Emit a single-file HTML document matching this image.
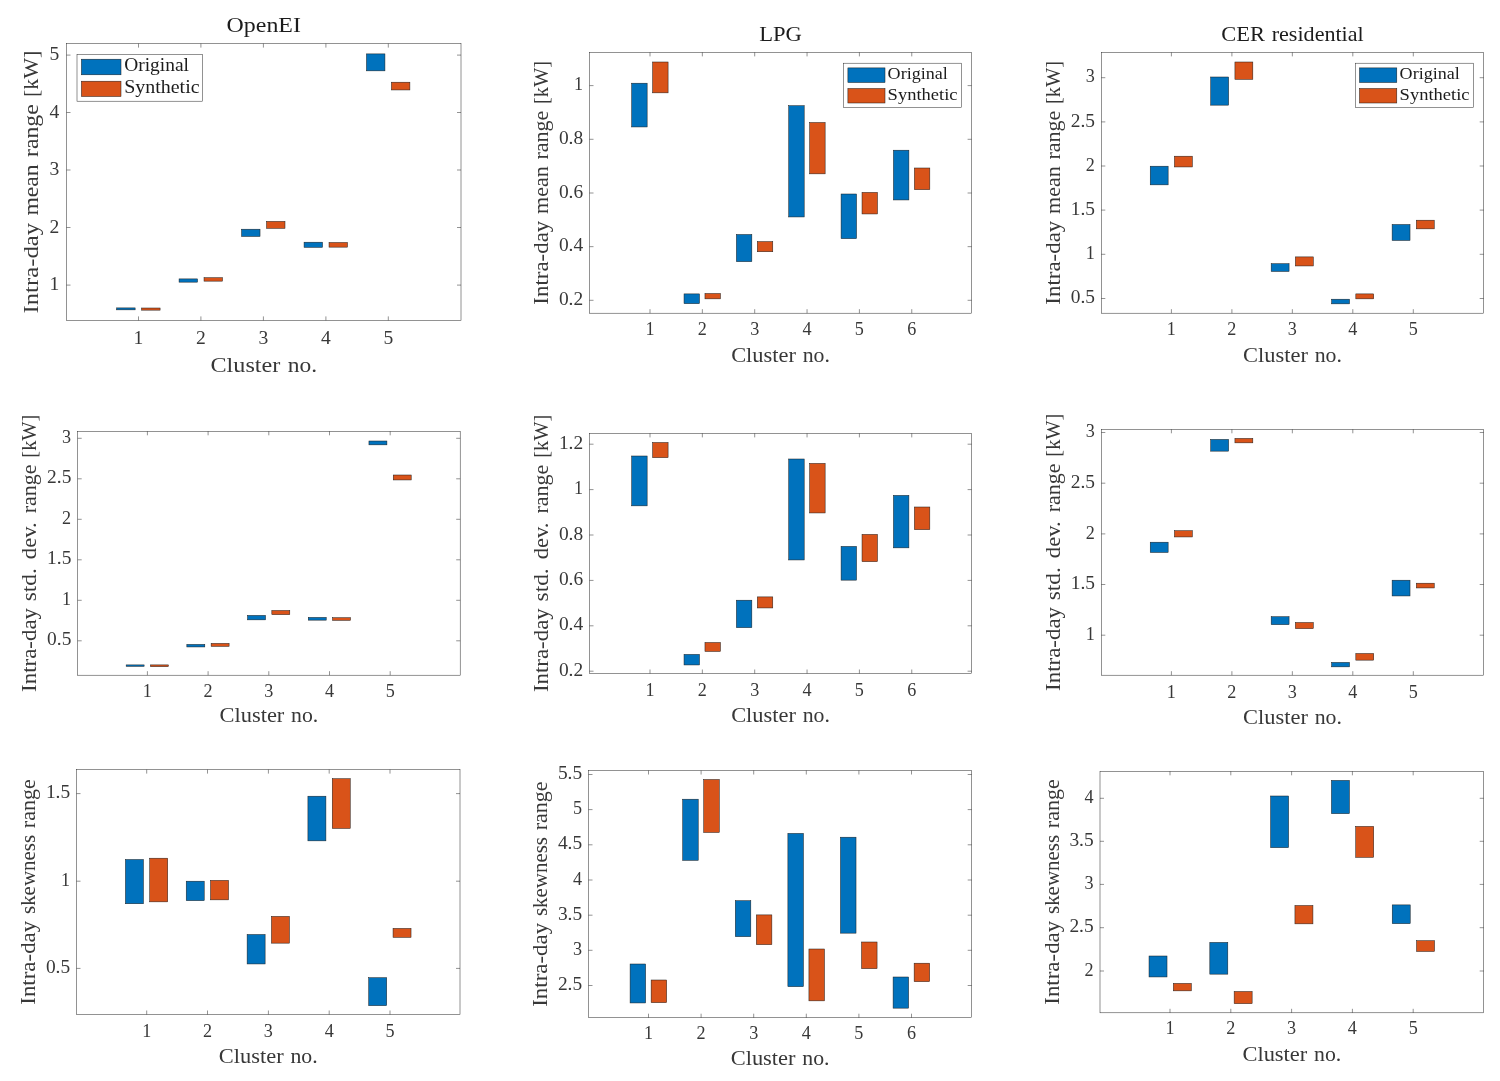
<!DOCTYPE html>
<html lang="en">
<head>
<meta charset="utf-8">
<title>Intra-day range comparison: Original vs Synthetic</title>
<style>
html,body{margin:0;padding:0;background:#fff;}
body{width:1500px;height:1081px;overflow:hidden;}
svg{display:block;}
svg text{font-family:"Liberation Serif","DejaVu Serif",serif;}
</style>
</head>
<body>
<svg width="1500" height="1081" viewBox="0 0 1500 1081">
<rect x="0" y="0" width="1500" height="1081" fill="#ffffff"/>
<g id="p1">
<rect x="116.66" y="307.9" width="18.47" height="1.95" fill="#0072BD" stroke="#1a1a1a" stroke-width="0.5"/>
<rect x="141.62" y="308" width="18.47" height="2.15" fill="#D95319" stroke="#1a1a1a" stroke-width="0.5"/>
<rect x="179.06" y="278.9" width="18.47" height="3.25" fill="#0072BD" stroke="#1a1a1a" stroke-width="0.5"/>
<rect x="204.02" y="277.7" width="18.47" height="3.45" fill="#D95319" stroke="#1a1a1a" stroke-width="0.5"/>
<rect x="241.56" y="229.2" width="18.47" height="7.25" fill="#0072BD" stroke="#1a1a1a" stroke-width="0.5"/>
<rect x="266.52" y="221.4" width="18.47" height="6.95" fill="#D95319" stroke="#1a1a1a" stroke-width="0.5"/>
<rect x="304.06" y="242.2" width="18.47" height="5.15" fill="#0072BD" stroke="#1a1a1a" stroke-width="0.5"/>
<rect x="329.02" y="242.5" width="18.47" height="4.65" fill="#D95319" stroke="#1a1a1a" stroke-width="0.5"/>
<rect x="366.46" y="53.9" width="18.47" height="16.95" fill="#0072BD" stroke="#1a1a1a" stroke-width="0.5"/>
<rect x="391.42" y="82.2" width="18.47" height="7.75" fill="#D95319" stroke="#1a1a1a" stroke-width="0.5"/>
<rect x="66.5" y="43.6" width="394.5" height="276.8" fill="none" stroke="#262626" stroke-width="0.5"/>
<path d="M138.5 320.4v-4M138.5 43.6v4M200.9 320.4v-4M200.9 43.6v4M263.4 320.4v-4M263.4 43.6v4M325.9 320.4v-4M325.9 43.6v4M388.3 320.4v-4M388.3 43.6v4M66.5 285.1h4M461 285.1h-4M66.5 227.5h4M461 227.5h-4M66.5 170h4M461 170h-4M66.5 112.5h4M461 112.5h-4M66.5 55.1h4M461 55.1h-4" stroke="#262626" stroke-width="0.5" fill="none"/>
<text y="343.6" font-size="19.58" fill="#383838"><tspan x="138.5" text-anchor="middle">1</tspan></text>
<text y="343.6" font-size="19.58" fill="#383838"><tspan x="200.9" text-anchor="middle">2</tspan></text>
<text y="343.6" font-size="19.58" fill="#383838"><tspan x="263.4" text-anchor="middle">3</tspan></text>
<text y="343.6" font-size="19.58" fill="#383838"><tspan x="325.9" text-anchor="middle">4</tspan></text>
<text y="343.6" font-size="19.58" fill="#383838"><tspan x="388.3" text-anchor="middle">5</tspan></text>
<text y="290.2" font-size="19.58" fill="#383838"><tspan x="54.38" text-anchor="middle">1</tspan></text>
<text y="232.6" font-size="19.58" fill="#383838"><tspan x="54.38" text-anchor="middle">2</tspan></text>
<text y="175.1" font-size="19.58" fill="#383838"><tspan x="54.38" text-anchor="middle">3</tspan></text>
<text y="117.6" font-size="19.58" fill="#383838"><tspan x="54.38" text-anchor="middle">4</tspan></text>
<text y="60.2" font-size="19.58" fill="#383838"><tspan x="54.38" text-anchor="middle">5</tspan></text>
<text y="371.7" font-size="21.67" fill="#383838"><tspan x="210.49" textLength="69.85" lengthAdjust="spacingAndGlyphs">Cluster</tspan> <tspan x="287.66" textLength="29.35" lengthAdjust="spacingAndGlyphs">no.</tspan></text>
<text transform="translate(37.9 182) rotate(-90)" font-size="21.67" fill="#383838"><tspan x="-131.46" textLength="90.53" lengthAdjust="spacingAndGlyphs">Intra-day</tspan> <tspan x="-33.61" textLength="51.33" lengthAdjust="spacingAndGlyphs">mean</tspan> <tspan x="25.05" textLength="52.62" lengthAdjust="spacingAndGlyphs">range</tspan> <tspan x="85" textLength="46.46" lengthAdjust="spacingAndGlyphs">[kW]</tspan></text>
<text y="32" font-size="21.67" fill="#1c1c1c"><tspan x="226.61" textLength="74.27" lengthAdjust="spacingAndGlyphs">OpenEI</tspan></text>
<rect x="77" y="54.3" width="125.3" height="46.9" fill="#fff" stroke="#262626" stroke-width="0.5"/>
<rect x="81.4" y="59.2" width="39.6" height="15.6" fill="#0072BD" stroke="#1a1a1a" stroke-width="0.5"/>
<rect x="81.4" y="81.2" width="39.6" height="15.3" fill="#D95319" stroke="#1a1a1a" stroke-width="0.5"/>
<text y="71.3" font-size="17.93" fill="#1c1c1c"><tspan x="124.2" textLength="64.79" lengthAdjust="spacingAndGlyphs">Original</tspan></text>
<text y="93" font-size="17.93" fill="#1c1c1c"><tspan x="124.2" textLength="75.35" lengthAdjust="spacingAndGlyphs">Synthetic</tspan></text>
</g>
<g id="p2">
<rect x="631.68" y="83.2" width="15.46" height="43.75" fill="#0072BD" stroke="#1a1a1a" stroke-width="0.5"/>
<rect x="652.62" y="62" width="15.46" height="30.85" fill="#D95319" stroke="#1a1a1a" stroke-width="0.5"/>
<rect x="684.03" y="293.9" width="15.46" height="9.75" fill="#0072BD" stroke="#1a1a1a" stroke-width="0.5"/>
<rect x="704.97" y="293.5" width="15.46" height="5.35" fill="#D95319" stroke="#1a1a1a" stroke-width="0.5"/>
<rect x="736.38" y="234.5" width="15.46" height="27.15" fill="#0072BD" stroke="#1a1a1a" stroke-width="0.5"/>
<rect x="757.32" y="241.6" width="15.46" height="10.15" fill="#D95319" stroke="#1a1a1a" stroke-width="0.5"/>
<rect x="788.73" y="105.7" width="15.46" height="111.25" fill="#0072BD" stroke="#1a1a1a" stroke-width="0.5"/>
<rect x="809.67" y="122.5" width="15.46" height="51.35" fill="#D95319" stroke="#1a1a1a" stroke-width="0.5"/>
<rect x="841.08" y="194" width="15.46" height="44.65" fill="#0072BD" stroke="#1a1a1a" stroke-width="0.5"/>
<rect x="862.02" y="192.4" width="15.46" height="21.55" fill="#D95319" stroke="#1a1a1a" stroke-width="0.5"/>
<rect x="893.43" y="150.2" width="15.46" height="49.75" fill="#0072BD" stroke="#1a1a1a" stroke-width="0.5"/>
<rect x="914.37" y="168" width="15.46" height="21.65" fill="#D95319" stroke="#1a1a1a" stroke-width="0.5"/>
<rect x="589.5" y="52.4" width="382.1" height="260.8" fill="none" stroke="#262626" stroke-width="0.5"/>
<path d="M650 313.2v-4M650 52.4v4M702.35 313.2v-4M702.35 52.4v4M754.7 313.2v-4M754.7 52.4v4M807.05 313.2v-4M807.05 52.4v4M859.4 313.2v-4M859.4 52.4v4M911.75 313.2v-4M911.75 52.4v4M589.5 300.3h4M971.6 300.3h-4M589.5 246.65h4M971.6 246.65h-4M589.5 193h4M971.6 193h-4M589.5 139.3h4M971.6 139.3h-4M589.5 85.6h4M971.6 85.6h-4" stroke="#262626" stroke-width="0.5" fill="none"/>
<text y="335" font-size="18.14" fill="#383838"><tspan x="650" text-anchor="middle">1</tspan></text>
<text y="335" font-size="18.14" fill="#383838"><tspan x="702.35" text-anchor="middle">2</tspan></text>
<text y="335" font-size="18.14" fill="#383838"><tspan x="754.7" text-anchor="middle">3</tspan></text>
<text y="335" font-size="18.14" fill="#383838"><tspan x="807.05" text-anchor="middle">4</tspan></text>
<text y="335" font-size="18.14" fill="#383838"><tspan x="859.4" text-anchor="middle">5</tspan></text>
<text y="335" font-size="18.14" fill="#383838"><tspan x="911.75" text-anchor="middle">6</tspan></text>
<text y="304.92" font-size="18.14" fill="#383838"><tspan x="558.92" textLength="24.28" lengthAdjust="spacingAndGlyphs">0.2</tspan></text>
<text y="251.27" font-size="18.14" fill="#383838"><tspan x="558.92" textLength="24.28" lengthAdjust="spacingAndGlyphs">0.4</tspan></text>
<text y="197.62" font-size="18.14" fill="#383838"><tspan x="558.92" textLength="24.28" lengthAdjust="spacingAndGlyphs">0.6</tspan></text>
<text y="143.92" font-size="18.14" fill="#383838"><tspan x="558.92" textLength="24.28" lengthAdjust="spacingAndGlyphs">0.8</tspan></text>
<text y="90.22" font-size="18.14" fill="#383838"><tspan x="578.45" text-anchor="middle">1</tspan></text>
<text y="361.8" font-size="20.09" fill="#383838"><tspan x="731.16" textLength="64.77" lengthAdjust="spacingAndGlyphs">Cluster</tspan> <tspan x="802.72" textLength="27.21" lengthAdjust="spacingAndGlyphs">no.</tspan></text>
<text transform="translate(547.6 182.8) rotate(-90)" font-size="20.09" fill="#383838"><tspan x="-121.9" textLength="83.95" lengthAdjust="spacingAndGlyphs">Intra-day</tspan> <tspan x="-31.16" textLength="47.59" lengthAdjust="spacingAndGlyphs">mean</tspan> <tspan x="23.23" textLength="48.8" lengthAdjust="spacingAndGlyphs">range</tspan> <tspan x="78.82" textLength="43.08" lengthAdjust="spacingAndGlyphs">[kW]</tspan></text>
<text y="41" font-size="20.09" fill="#1c1c1c"><tspan x="759.22" textLength="42.66" lengthAdjust="spacingAndGlyphs">LPG</tspan></text>
<rect x="843.5" y="63.2" width="118.2" height="44.3" fill="#fff" stroke="#262626" stroke-width="0.5"/>
<rect x="847.9" y="67.9" width="37.1" height="14.6" fill="#0072BD" stroke="#1a1a1a" stroke-width="0.5"/>
<rect x="847.9" y="88.5" width="37.1" height="14.5" fill="#D95319" stroke="#1a1a1a" stroke-width="0.5"/>
<text y="79" font-size="16.65" fill="#1c1c1c"><tspan x="887.6" textLength="60.16" lengthAdjust="spacingAndGlyphs">Original</tspan></text>
<text y="99.7" font-size="16.65" fill="#1c1c1c"><tspan x="887.6" textLength="69.97" lengthAdjust="spacingAndGlyphs">Synthetic</tspan></text>
</g>
<g id="p3">
<rect x="1150.23" y="166.2" width="17.9" height="18.65" fill="#0072BD" stroke="#1a1a1a" stroke-width="0.5"/>
<rect x="1174.43" y="156.2" width="17.9" height="10.75" fill="#D95319" stroke="#1a1a1a" stroke-width="0.5"/>
<rect x="1210.73" y="77" width="17.9" height="28.15" fill="#0072BD" stroke="#1a1a1a" stroke-width="0.5"/>
<rect x="1234.93" y="62" width="17.9" height="17.35" fill="#D95319" stroke="#1a1a1a" stroke-width="0.5"/>
<rect x="1271.17" y="263.7" width="17.9" height="7.75" fill="#0072BD" stroke="#1a1a1a" stroke-width="0.5"/>
<rect x="1295.38" y="256.9" width="17.9" height="9.05" fill="#D95319" stroke="#1a1a1a" stroke-width="0.5"/>
<rect x="1331.62" y="299.2" width="17.9" height="4.65" fill="#0072BD" stroke="#1a1a1a" stroke-width="0.5"/>
<rect x="1355.83" y="293.9" width="17.9" height="4.95" fill="#D95319" stroke="#1a1a1a" stroke-width="0.5"/>
<rect x="1392.12" y="224.5" width="17.9" height="15.95" fill="#0072BD" stroke="#1a1a1a" stroke-width="0.5"/>
<rect x="1416.33" y="220.2" width="17.9" height="8.65" fill="#D95319" stroke="#1a1a1a" stroke-width="0.5"/>
<rect x="1101.3" y="52.4" width="382.4" height="260.8" fill="none" stroke="#262626" stroke-width="0.5"/>
<path d="M1171.4 313.2v-4M1171.4 52.4v4M1231.9 313.2v-4M1231.9 52.4v4M1292.35 313.2v-4M1292.35 52.4v4M1352.8 313.2v-4M1352.8 52.4v4M1413.3 313.2v-4M1413.3 52.4v4M1101.3 298.5h4M1483.7 298.5h-4M1101.3 254.3h4M1483.7 254.3h-4M1101.3 210.1h4M1483.7 210.1h-4M1101.3 166h4M1483.7 166h-4M1101.3 121.9h4M1483.7 121.9h-4M1101.3 77.7h4M1483.7 77.7h-4" stroke="#262626" stroke-width="0.5" fill="none"/>
<text y="335" font-size="18.14" fill="#383838"><tspan x="1171.4" text-anchor="middle">1</tspan></text>
<text y="335" font-size="18.14" fill="#383838"><tspan x="1231.9" text-anchor="middle">2</tspan></text>
<text y="335" font-size="18.14" fill="#383838"><tspan x="1292.35" text-anchor="middle">3</tspan></text>
<text y="335" font-size="18.14" fill="#383838"><tspan x="1352.8" text-anchor="middle">4</tspan></text>
<text y="335" font-size="18.14" fill="#383838"><tspan x="1413.3" text-anchor="middle">5</tspan></text>
<text y="303.12" font-size="18.14" fill="#383838"><tspan x="1070.72" textLength="24.28" lengthAdjust="spacingAndGlyphs">0.5</tspan></text>
<text y="258.92" font-size="18.14" fill="#383838"><tspan x="1090.25" text-anchor="middle">1</tspan></text>
<text y="214.72" font-size="18.14" fill="#383838"><tspan x="1070.72" textLength="24.28" lengthAdjust="spacingAndGlyphs">1.5</tspan></text>
<text y="170.62" font-size="18.14" fill="#383838"><tspan x="1090.25" text-anchor="middle">2</tspan></text>
<text y="126.52" font-size="18.14" fill="#383838"><tspan x="1070.72" textLength="24.28" lengthAdjust="spacingAndGlyphs">2.5</tspan></text>
<text y="82.32" font-size="18.14" fill="#383838"><tspan x="1090.25" text-anchor="middle">3</tspan></text>
<text y="361.8" font-size="20.09" fill="#383838"><tspan x="1243.11" textLength="64.77" lengthAdjust="spacingAndGlyphs">Cluster</tspan> <tspan x="1314.67" textLength="27.21" lengthAdjust="spacingAndGlyphs">no.</tspan></text>
<text transform="translate(1060 182.8) rotate(-90)" font-size="20.09" fill="#383838"><tspan x="-121.9" textLength="83.95" lengthAdjust="spacingAndGlyphs">Intra-day</tspan> <tspan x="-31.16" textLength="47.59" lengthAdjust="spacingAndGlyphs">mean</tspan> <tspan x="23.23" textLength="48.8" lengthAdjust="spacingAndGlyphs">range</tspan> <tspan x="78.82" textLength="43.08" lengthAdjust="spacingAndGlyphs">[kW]</tspan></text>
<text y="41" font-size="20.09" fill="#1c1c1c"><tspan x="1221.29" textLength="43.64" lengthAdjust="spacingAndGlyphs">CER</tspan> <tspan x="1271.72" textLength="91.98" lengthAdjust="spacingAndGlyphs">residential</tspan></text>
<rect x="1355.3" y="63.2" width="118.2" height="44.3" fill="#fff" stroke="#262626" stroke-width="0.5"/>
<rect x="1359.5" y="67.9" width="37.3" height="14.6" fill="#0072BD" stroke="#1a1a1a" stroke-width="0.5"/>
<rect x="1359.5" y="88.5" width="37.3" height="14.5" fill="#D95319" stroke="#1a1a1a" stroke-width="0.5"/>
<text y="79" font-size="16.65" fill="#1c1c1c"><tspan x="1399.6" textLength="60.16" lengthAdjust="spacingAndGlyphs">Original</tspan></text>
<text y="99.7" font-size="16.65" fill="#1c1c1c"><tspan x="1399.6" textLength="69.97" lengthAdjust="spacingAndGlyphs">Synthetic</tspan></text>
</g>
<g id="p4">
<rect x="126.16" y="664.9" width="17.96" height="1.45" fill="#0072BD" stroke="#1a1a1a" stroke-width="0.5"/>
<rect x="150.44" y="664.9" width="17.96" height="1.75" fill="#D95319" stroke="#1a1a1a" stroke-width="0.5"/>
<rect x="186.85" y="644.4" width="17.96" height="2.55" fill="#0072BD" stroke="#1a1a1a" stroke-width="0.5"/>
<rect x="211.13" y="643.4" width="17.96" height="2.95" fill="#D95319" stroke="#1a1a1a" stroke-width="0.5"/>
<rect x="247.56" y="615.4" width="17.96" height="4.45" fill="#0072BD" stroke="#1a1a1a" stroke-width="0.5"/>
<rect x="271.84" y="610.5" width="17.96" height="4.15" fill="#D95319" stroke="#1a1a1a" stroke-width="0.5"/>
<rect x="308.25" y="617.4" width="17.96" height="2.75" fill="#0072BD" stroke="#1a1a1a" stroke-width="0.5"/>
<rect x="332.54" y="617.7" width="17.96" height="2.65" fill="#D95319" stroke="#1a1a1a" stroke-width="0.5"/>
<rect x="368.95" y="441" width="17.96" height="3.85" fill="#0072BD" stroke="#1a1a1a" stroke-width="0.5"/>
<rect x="393.24" y="475" width="17.96" height="4.95" fill="#D95319" stroke="#1a1a1a" stroke-width="0.5"/>
<rect x="77.7" y="431.3" width="382.5" height="243.9" fill="none" stroke="#262626" stroke-width="0.5"/>
<path d="M147.4 675.2v-4M147.4 431.3v4M208.1 675.2v-4M208.1 431.3v4M268.8 675.2v-4M268.8 431.3v4M329.5 675.2v-4M329.5 431.3v4M390.2 675.2v-4M390.2 431.3v4M77.7 640.8h4M460.2 640.8h-4M77.7 600.3h4M460.2 600.3h-4M77.7 559.8h4M460.2 559.8h-4M77.7 519.3h4M460.2 519.3h-4M77.7 478.8h4M460.2 478.8h-4M77.7 438.3h4M460.2 438.3h-4" stroke="#262626" stroke-width="0.5" fill="none"/>
<text y="697.2" font-size="18.14" fill="#383838"><tspan x="147.4" text-anchor="middle">1</tspan></text>
<text y="697.2" font-size="18.14" fill="#383838"><tspan x="208.1" text-anchor="middle">2</tspan></text>
<text y="697.2" font-size="18.14" fill="#383838"><tspan x="268.8" text-anchor="middle">3</tspan></text>
<text y="697.2" font-size="18.14" fill="#383838"><tspan x="329.5" text-anchor="middle">4</tspan></text>
<text y="697.2" font-size="18.14" fill="#383838"><tspan x="390.2" text-anchor="middle">5</tspan></text>
<text y="645.42" font-size="18.14" fill="#383838"><tspan x="47.12" textLength="24.28" lengthAdjust="spacingAndGlyphs">0.5</tspan></text>
<text y="604.92" font-size="18.14" fill="#383838"><tspan x="66.65" text-anchor="middle">1</tspan></text>
<text y="564.42" font-size="18.14" fill="#383838"><tspan x="47.12" textLength="24.28" lengthAdjust="spacingAndGlyphs">1.5</tspan></text>
<text y="523.92" font-size="18.14" fill="#383838"><tspan x="66.65" text-anchor="middle">2</tspan></text>
<text y="483.42" font-size="18.14" fill="#383838"><tspan x="47.12" textLength="24.28" lengthAdjust="spacingAndGlyphs">2.5</tspan></text>
<text y="442.92" font-size="18.14" fill="#383838"><tspan x="66.65" text-anchor="middle">3</tspan></text>
<text y="722" font-size="20.09" fill="#383838"><tspan x="219.56" textLength="64.77" lengthAdjust="spacingAndGlyphs">Cluster</tspan> <tspan x="291.12" textLength="27.21" lengthAdjust="spacingAndGlyphs">no.</tspan></text>
<text transform="translate(36.2 553.25) rotate(-90)" font-size="20.09" fill="#383838"><tspan x="-138.68" textLength="83.95" lengthAdjust="spacingAndGlyphs">Intra-day</tspan> <tspan x="-47.94" textLength="32.99" lengthAdjust="spacingAndGlyphs">std.</tspan> <tspan x="-5.9" textLength="36.84" lengthAdjust="spacingAndGlyphs">dev.</tspan> <tspan x="40" textLength="48.8" lengthAdjust="spacingAndGlyphs">range</tspan> <tspan x="95.59" textLength="43.08" lengthAdjust="spacingAndGlyphs">[kW]</tspan></text>
</g>
<g id="p5">
<rect x="631.68" y="456" width="15.46" height="49.85" fill="#0072BD" stroke="#1a1a1a" stroke-width="0.5"/>
<rect x="652.62" y="442.5" width="15.46" height="15.15" fill="#D95319" stroke="#1a1a1a" stroke-width="0.5"/>
<rect x="684.03" y="654.4" width="15.46" height="10.55" fill="#0072BD" stroke="#1a1a1a" stroke-width="0.5"/>
<rect x="704.97" y="642.5" width="15.46" height="8.95" fill="#D95319" stroke="#1a1a1a" stroke-width="0.5"/>
<rect x="736.38" y="600.2" width="15.46" height="27.45" fill="#0072BD" stroke="#1a1a1a" stroke-width="0.5"/>
<rect x="757.32" y="596.9" width="15.46" height="11.05" fill="#D95319" stroke="#1a1a1a" stroke-width="0.5"/>
<rect x="788.73" y="459" width="15.46" height="100.95" fill="#0072BD" stroke="#1a1a1a" stroke-width="0.5"/>
<rect x="809.67" y="463.4" width="15.46" height="49.55" fill="#D95319" stroke="#1a1a1a" stroke-width="0.5"/>
<rect x="841.08" y="546.4" width="15.46" height="33.75" fill="#0072BD" stroke="#1a1a1a" stroke-width="0.5"/>
<rect x="862.02" y="534.4" width="15.46" height="27.25" fill="#D95319" stroke="#1a1a1a" stroke-width="0.5"/>
<rect x="893.43" y="495.4" width="15.46" height="52.45" fill="#0072BD" stroke="#1a1a1a" stroke-width="0.5"/>
<rect x="914.37" y="507" width="15.46" height="22.65" fill="#D95319" stroke="#1a1a1a" stroke-width="0.5"/>
<rect x="589.5" y="433.4" width="382.1" height="240.1" fill="none" stroke="#262626" stroke-width="0.5"/>
<path d="M650 673.5v-4M650 433.4v4M702.35 673.5v-4M702.35 433.4v4M754.7 673.5v-4M754.7 433.4v4M807.05 673.5v-4M807.05 433.4v4M859.4 673.5v-4M859.4 433.4v4M911.75 673.5v-4M911.75 433.4v4M589.5 671.2h4M971.6 671.2h-4M589.5 625.8h4M971.6 625.8h-4M589.5 580.4h4M971.6 580.4h-4M589.5 535h4M971.6 535h-4M589.5 489.6h4M971.6 489.6h-4M589.5 444.2h4M971.6 444.2h-4" stroke="#262626" stroke-width="0.5" fill="none"/>
<text y="695.8" font-size="18.14" fill="#383838"><tspan x="650" text-anchor="middle">1</tspan></text>
<text y="695.8" font-size="18.14" fill="#383838"><tspan x="702.35" text-anchor="middle">2</tspan></text>
<text y="695.8" font-size="18.14" fill="#383838"><tspan x="754.7" text-anchor="middle">3</tspan></text>
<text y="695.8" font-size="18.14" fill="#383838"><tspan x="807.05" text-anchor="middle">4</tspan></text>
<text y="695.8" font-size="18.14" fill="#383838"><tspan x="859.4" text-anchor="middle">5</tspan></text>
<text y="695.8" font-size="18.14" fill="#383838"><tspan x="911.75" text-anchor="middle">6</tspan></text>
<text y="675.82" font-size="18.14" fill="#383838"><tspan x="558.92" textLength="24.28" lengthAdjust="spacingAndGlyphs">0.2</tspan></text>
<text y="630.42" font-size="18.14" fill="#383838"><tspan x="558.92" textLength="24.28" lengthAdjust="spacingAndGlyphs">0.4</tspan></text>
<text y="585.02" font-size="18.14" fill="#383838"><tspan x="558.92" textLength="24.28" lengthAdjust="spacingAndGlyphs">0.6</tspan></text>
<text y="539.62" font-size="18.14" fill="#383838"><tspan x="558.92" textLength="24.28" lengthAdjust="spacingAndGlyphs">0.8</tspan></text>
<text y="494.22" font-size="18.14" fill="#383838"><tspan x="578.45" text-anchor="middle">1</tspan></text>
<text y="448.82" font-size="18.14" fill="#383838"><tspan x="558.92" textLength="24.28" lengthAdjust="spacingAndGlyphs">1.2</tspan></text>
<text y="721.7" font-size="20.09" fill="#383838"><tspan x="731.16" textLength="64.77" lengthAdjust="spacingAndGlyphs">Cluster</tspan> <tspan x="802.72" textLength="27.21" lengthAdjust="spacingAndGlyphs">no.</tspan></text>
<text transform="translate(547.8 553.45) rotate(-90)" font-size="20.09" fill="#383838"><tspan x="-138.68" textLength="83.95" lengthAdjust="spacingAndGlyphs">Intra-day</tspan> <tspan x="-47.94" textLength="32.99" lengthAdjust="spacingAndGlyphs">std.</tspan> <tspan x="-5.9" textLength="36.84" lengthAdjust="spacingAndGlyphs">dev.</tspan> <tspan x="40" textLength="48.8" lengthAdjust="spacingAndGlyphs">range</tspan> <tspan x="95.59" textLength="43.08" lengthAdjust="spacingAndGlyphs">[kW]</tspan></text>
</g>
<g id="p6">
<rect x="1150.23" y="542.2" width="17.9" height="10.25" fill="#0072BD" stroke="#1a1a1a" stroke-width="0.5"/>
<rect x="1174.43" y="530.7" width="17.9" height="6.25" fill="#D95319" stroke="#1a1a1a" stroke-width="0.5"/>
<rect x="1210.73" y="439.4" width="17.9" height="11.75" fill="#0072BD" stroke="#1a1a1a" stroke-width="0.5"/>
<rect x="1234.93" y="438.4" width="17.9" height="4.45" fill="#D95319" stroke="#1a1a1a" stroke-width="0.5"/>
<rect x="1271.17" y="616.7" width="17.9" height="7.95" fill="#0072BD" stroke="#1a1a1a" stroke-width="0.5"/>
<rect x="1295.38" y="622.5" width="17.9" height="6.15" fill="#D95319" stroke="#1a1a1a" stroke-width="0.5"/>
<rect x="1331.62" y="662.4" width="17.9" height="4.45" fill="#0072BD" stroke="#1a1a1a" stroke-width="0.5"/>
<rect x="1355.83" y="653.5" width="17.9" height="6.65" fill="#D95319" stroke="#1a1a1a" stroke-width="0.5"/>
<rect x="1392.12" y="580.2" width="17.9" height="15.75" fill="#0072BD" stroke="#1a1a1a" stroke-width="0.5"/>
<rect x="1416.33" y="583.2" width="17.9" height="4.75" fill="#D95319" stroke="#1a1a1a" stroke-width="0.5"/>
<rect x="1101.3" y="429.3" width="382.4" height="245.9" fill="none" stroke="#262626" stroke-width="0.5"/>
<path d="M1171.4 675.2v-4M1171.4 429.3v4M1231.9 675.2v-4M1231.9 429.3v4M1292.35 675.2v-4M1292.35 429.3v4M1352.8 675.2v-4M1352.8 429.3v4M1413.3 675.2v-4M1413.3 429.3v4M1101.3 635.2h4M1483.7 635.2h-4M1101.3 584.5h4M1483.7 584.5h-4M1101.3 533.9h4M1483.7 533.9h-4M1101.3 483.2h4M1483.7 483.2h-4M1101.3 432.5h4M1483.7 432.5h-4" stroke="#262626" stroke-width="0.5" fill="none"/>
<text y="697.5" font-size="18.14" fill="#383838"><tspan x="1171.4" text-anchor="middle">1</tspan></text>
<text y="697.5" font-size="18.14" fill="#383838"><tspan x="1231.9" text-anchor="middle">2</tspan></text>
<text y="697.5" font-size="18.14" fill="#383838"><tspan x="1292.35" text-anchor="middle">3</tspan></text>
<text y="697.5" font-size="18.14" fill="#383838"><tspan x="1352.8" text-anchor="middle">4</tspan></text>
<text y="697.5" font-size="18.14" fill="#383838"><tspan x="1413.3" text-anchor="middle">5</tspan></text>
<text y="639.82" font-size="18.14" fill="#383838"><tspan x="1090.25" text-anchor="middle">1</tspan></text>
<text y="589.12" font-size="18.14" fill="#383838"><tspan x="1070.72" textLength="24.28" lengthAdjust="spacingAndGlyphs">1.5</tspan></text>
<text y="538.52" font-size="18.14" fill="#383838"><tspan x="1090.25" text-anchor="middle">2</tspan></text>
<text y="487.82" font-size="18.14" fill="#383838"><tspan x="1070.72" textLength="24.28" lengthAdjust="spacingAndGlyphs">2.5</tspan></text>
<text y="437.12" font-size="18.14" fill="#383838"><tspan x="1090.25" text-anchor="middle">3</tspan></text>
<text y="723.5" font-size="20.09" fill="#383838"><tspan x="1243.11" textLength="64.77" lengthAdjust="spacingAndGlyphs">Cluster</tspan> <tspan x="1314.67" textLength="27.21" lengthAdjust="spacingAndGlyphs">no.</tspan></text>
<text transform="translate(1060 552.25) rotate(-90)" font-size="20.09" fill="#383838"><tspan x="-138.68" textLength="83.95" lengthAdjust="spacingAndGlyphs">Intra-day</tspan> <tspan x="-47.94" textLength="32.99" lengthAdjust="spacingAndGlyphs">std.</tspan> <tspan x="-5.9" textLength="36.84" lengthAdjust="spacingAndGlyphs">dev.</tspan> <tspan x="40" textLength="48.8" lengthAdjust="spacingAndGlyphs">range</tspan> <tspan x="95.59" textLength="43.08" lengthAdjust="spacingAndGlyphs">[kW]</tspan></text>
</g>
<g id="p7">
<rect x="125.42" y="859.5" width="17.99" height="44.25" fill="#0072BD" stroke="#1a1a1a" stroke-width="0.5"/>
<rect x="149.74" y="858.2" width="17.99" height="43.65" fill="#D95319" stroke="#1a1a1a" stroke-width="0.5"/>
<rect x="186.22" y="881.2" width="17.99" height="19.45" fill="#0072BD" stroke="#1a1a1a" stroke-width="0.5"/>
<rect x="210.54" y="880.4" width="17.99" height="19.45" fill="#D95319" stroke="#1a1a1a" stroke-width="0.5"/>
<rect x="247.12" y="934.5" width="17.99" height="29.45" fill="#0072BD" stroke="#1a1a1a" stroke-width="0.5"/>
<rect x="271.44" y="916.4" width="17.99" height="26.75" fill="#D95319" stroke="#1a1a1a" stroke-width="0.5"/>
<rect x="307.92" y="796.2" width="17.99" height="44.65" fill="#0072BD" stroke="#1a1a1a" stroke-width="0.5"/>
<rect x="332.24" y="778.7" width="17.99" height="49.75" fill="#D95319" stroke="#1a1a1a" stroke-width="0.5"/>
<rect x="368.72" y="977.7" width="17.99" height="27.95" fill="#0072BD" stroke="#1a1a1a" stroke-width="0.5"/>
<rect x="393.04" y="928.4" width="17.99" height="8.95" fill="#D95319" stroke="#1a1a1a" stroke-width="0.5"/>
<rect x="76.5" y="769.6" width="383.5" height="244.9" fill="none" stroke="#262626" stroke-width="0.5"/>
<path d="M146.7 1014.5v-4M146.7 769.6v4M207.5 1014.5v-4M207.5 769.6v4M268.4 1014.5v-4M268.4 769.6v4M329.2 1014.5v-4M329.2 769.6v4M390 1014.5v-4M390 769.6v4M76.5 968.4h4M460 968.4h-4M76.5 881.2h4M460 881.2h-4M76.5 793.6h4M460 793.6h-4" stroke="#262626" stroke-width="0.5" fill="none"/>
<text y="1037" font-size="18.14" fill="#383838"><tspan x="146.7" text-anchor="middle">1</tspan></text>
<text y="1037" font-size="18.14" fill="#383838"><tspan x="207.5" text-anchor="middle">2</tspan></text>
<text y="1037" font-size="18.14" fill="#383838"><tspan x="268.4" text-anchor="middle">3</tspan></text>
<text y="1037" font-size="18.14" fill="#383838"><tspan x="329.2" text-anchor="middle">4</tspan></text>
<text y="1037" font-size="18.14" fill="#383838"><tspan x="390" text-anchor="middle">5</tspan></text>
<text y="973.02" font-size="18.14" fill="#383838"><tspan x="45.92" textLength="24.28" lengthAdjust="spacingAndGlyphs">0.5</tspan></text>
<text y="885.82" font-size="18.14" fill="#383838"><tspan x="65.45" text-anchor="middle">1</tspan></text>
<text y="798.22" font-size="18.14" fill="#383838"><tspan x="45.92" textLength="24.28" lengthAdjust="spacingAndGlyphs">1.5</tspan></text>
<text y="1062.5" font-size="20.09" fill="#383838"><tspan x="218.86" textLength="64.77" lengthAdjust="spacingAndGlyphs">Cluster</tspan> <tspan x="290.42" textLength="27.21" lengthAdjust="spacingAndGlyphs">no.</tspan></text>
<text transform="translate(35.3 892.05) rotate(-90)" font-size="20.09" fill="#383838"><tspan x="-112.7" textLength="83.95" lengthAdjust="spacingAndGlyphs">Intra-day</tspan> <tspan x="-21.96" textLength="79.07" lengthAdjust="spacingAndGlyphs">skewness</tspan> <tspan x="63.9" textLength="48.8" lengthAdjust="spacingAndGlyphs">range</tspan></text>
</g>
<g id="p8">
<rect x="630.09" y="964" width="15.53" height="38.95" fill="#0072BD" stroke="#1a1a1a" stroke-width="0.5"/>
<rect x="651.13" y="980" width="15.53" height="22.65" fill="#D95319" stroke="#1a1a1a" stroke-width="0.5"/>
<rect x="682.69" y="799.2" width="15.53" height="61.15" fill="#0072BD" stroke="#1a1a1a" stroke-width="0.5"/>
<rect x="703.73" y="779.5" width="15.53" height="52.95" fill="#D95319" stroke="#1a1a1a" stroke-width="0.5"/>
<rect x="735.29" y="900.7" width="15.53" height="35.95" fill="#0072BD" stroke="#1a1a1a" stroke-width="0.5"/>
<rect x="756.33" y="914.9" width="15.53" height="29.75" fill="#D95319" stroke="#1a1a1a" stroke-width="0.5"/>
<rect x="787.89" y="833.4" width="15.53" height="153.25" fill="#0072BD" stroke="#1a1a1a" stroke-width="0.5"/>
<rect x="808.93" y="949" width="15.53" height="51.85" fill="#D95319" stroke="#1a1a1a" stroke-width="0.5"/>
<rect x="840.49" y="837.2" width="15.53" height="95.95" fill="#0072BD" stroke="#1a1a1a" stroke-width="0.5"/>
<rect x="861.53" y="942" width="15.53" height="26.65" fill="#D95319" stroke="#1a1a1a" stroke-width="0.5"/>
<rect x="893.09" y="977" width="15.53" height="31.15" fill="#0072BD" stroke="#1a1a1a" stroke-width="0.5"/>
<rect x="914.13" y="963.2" width="15.53" height="18.45" fill="#D95319" stroke="#1a1a1a" stroke-width="0.5"/>
<rect x="588.5" y="770.5" width="383.2" height="247.2" fill="none" stroke="#262626" stroke-width="0.5"/>
<path d="M648.5 1017.7v-4M648.5 770.5v4M701.1 1017.7v-4M701.1 770.5v4M753.7 1017.7v-4M753.7 770.5v4M806.3 1017.7v-4M806.3 770.5v4M858.9 1017.7v-4M858.9 770.5v4M911.5 1017.7v-4M911.5 770.5v4M588.5 985.5h4M971.7 985.5h-4M588.5 950.3h4M971.7 950.3h-4M588.5 915.2h4M971.7 915.2h-4M588.5 880h4M971.7 880h-4M588.5 844.8h4M971.7 844.8h-4M588.5 809.6h4M971.7 809.6h-4M588.5 774.5h4M971.7 774.5h-4" stroke="#262626" stroke-width="0.5" fill="none"/>
<text y="1039.2" font-size="18.14" fill="#383838"><tspan x="648.5" text-anchor="middle">1</tspan></text>
<text y="1039.2" font-size="18.14" fill="#383838"><tspan x="701.1" text-anchor="middle">2</tspan></text>
<text y="1039.2" font-size="18.14" fill="#383838"><tspan x="753.7" text-anchor="middle">3</tspan></text>
<text y="1039.2" font-size="18.14" fill="#383838"><tspan x="806.3" text-anchor="middle">4</tspan></text>
<text y="1039.2" font-size="18.14" fill="#383838"><tspan x="858.9" text-anchor="middle">5</tspan></text>
<text y="1039.2" font-size="18.14" fill="#383838"><tspan x="911.5" text-anchor="middle">6</tspan></text>
<text y="990.12" font-size="18.14" fill="#383838"><tspan x="557.92" textLength="24.28" lengthAdjust="spacingAndGlyphs">2.5</tspan></text>
<text y="954.92" font-size="18.14" fill="#383838"><tspan x="577.45" text-anchor="middle">3</tspan></text>
<text y="919.82" font-size="18.14" fill="#383838"><tspan x="557.92" textLength="24.28" lengthAdjust="spacingAndGlyphs">3.5</tspan></text>
<text y="884.62" font-size="18.14" fill="#383838"><tspan x="577.45" text-anchor="middle">4</tspan></text>
<text y="849.42" font-size="18.14" fill="#383838"><tspan x="557.92" textLength="24.28" lengthAdjust="spacingAndGlyphs">4.5</tspan></text>
<text y="814.22" font-size="18.14" fill="#383838"><tspan x="577.45" text-anchor="middle">5</tspan></text>
<text y="779.12" font-size="18.14" fill="#383838"><tspan x="557.92" textLength="24.28" lengthAdjust="spacingAndGlyphs">5.5</tspan></text>
<text y="1064.7" font-size="20.09" fill="#383838"><tspan x="730.71" textLength="64.77" lengthAdjust="spacingAndGlyphs">Cluster</tspan> <tspan x="802.27" textLength="27.21" lengthAdjust="spacingAndGlyphs">no.</tspan></text>
<text transform="translate(546.7 894.1) rotate(-90)" font-size="20.09" fill="#383838"><tspan x="-112.7" textLength="83.95" lengthAdjust="spacingAndGlyphs">Intra-day</tspan> <tspan x="-21.96" textLength="79.07" lengthAdjust="spacingAndGlyphs">skewness</tspan> <tspan x="63.9" textLength="48.8" lengthAdjust="spacingAndGlyphs">range</tspan></text>
</g>
<g id="p9">
<rect x="1149.02" y="956" width="17.99" height="20.95" fill="#0072BD" stroke="#1a1a1a" stroke-width="0.5"/>
<rect x="1173.34" y="983.4" width="17.99" height="7.45" fill="#D95319" stroke="#1a1a1a" stroke-width="0.5"/>
<rect x="1209.82" y="942.4" width="17.99" height="31.75" fill="#0072BD" stroke="#1a1a1a" stroke-width="0.5"/>
<rect x="1234.14" y="991.5" width="17.99" height="12.15" fill="#D95319" stroke="#1a1a1a" stroke-width="0.5"/>
<rect x="1270.62" y="796" width="17.99" height="51.65" fill="#0072BD" stroke="#1a1a1a" stroke-width="0.5"/>
<rect x="1294.94" y="905.5" width="17.99" height="18.35" fill="#D95319" stroke="#1a1a1a" stroke-width="0.5"/>
<rect x="1331.42" y="780.4" width="17.99" height="33.25" fill="#0072BD" stroke="#1a1a1a" stroke-width="0.5"/>
<rect x="1355.74" y="826.4" width="17.99" height="30.95" fill="#D95319" stroke="#1a1a1a" stroke-width="0.5"/>
<rect x="1392.22" y="904.9" width="17.99" height="18.75" fill="#0072BD" stroke="#1a1a1a" stroke-width="0.5"/>
<rect x="1416.54" y="940.7" width="17.99" height="10.75" fill="#D95319" stroke="#1a1a1a" stroke-width="0.5"/>
<rect x="1100" y="771.3" width="383.7" height="241.5" fill="none" stroke="#262626" stroke-width="0.5"/>
<path d="M1170 1012.8v-4M1170 771.3v4M1230.8 1012.8v-4M1230.8 771.3v4M1291.6 1012.8v-4M1291.6 771.3v4M1352.4 1012.8v-4M1352.4 771.3v4M1413.2 1012.8v-4M1413.2 771.3v4M1100 971h4M1483.7 971h-4M1100 927.7h4M1483.7 927.7h-4M1100 884.4h4M1483.7 884.4h-4M1100 841.3h4M1483.7 841.3h-4M1100 798.3h4M1483.7 798.3h-4" stroke="#262626" stroke-width="0.5" fill="none"/>
<text y="1034.3" font-size="18.14" fill="#383838"><tspan x="1170" text-anchor="middle">1</tspan></text>
<text y="1034.3" font-size="18.14" fill="#383838"><tspan x="1230.8" text-anchor="middle">2</tspan></text>
<text y="1034.3" font-size="18.14" fill="#383838"><tspan x="1291.6" text-anchor="middle">3</tspan></text>
<text y="1034.3" font-size="18.14" fill="#383838"><tspan x="1352.4" text-anchor="middle">4</tspan></text>
<text y="1034.3" font-size="18.14" fill="#383838"><tspan x="1413.2" text-anchor="middle">5</tspan></text>
<text y="975.62" font-size="18.14" fill="#383838"><tspan x="1088.95" text-anchor="middle">2</tspan></text>
<text y="932.32" font-size="18.14" fill="#383838"><tspan x="1069.42" textLength="24.28" lengthAdjust="spacingAndGlyphs">2.5</tspan></text>
<text y="889.02" font-size="18.14" fill="#383838"><tspan x="1088.95" text-anchor="middle">3</tspan></text>
<text y="845.92" font-size="18.14" fill="#383838"><tspan x="1069.42" textLength="24.28" lengthAdjust="spacingAndGlyphs">3.5</tspan></text>
<text y="802.92" font-size="18.14" fill="#383838"><tspan x="1088.95" text-anchor="middle">4</tspan></text>
<text y="1060.8" font-size="20.09" fill="#383838"><tspan x="1242.46" textLength="64.77" lengthAdjust="spacingAndGlyphs">Cluster</tspan> <tspan x="1314.02" textLength="27.21" lengthAdjust="spacingAndGlyphs">no.</tspan></text>
<text transform="translate(1058.9 892.05) rotate(-90)" font-size="20.09" fill="#383838"><tspan x="-112.7" textLength="83.95" lengthAdjust="spacingAndGlyphs">Intra-day</tspan> <tspan x="-21.96" textLength="79.07" lengthAdjust="spacingAndGlyphs">skewness</tspan> <tspan x="63.9" textLength="48.8" lengthAdjust="spacingAndGlyphs">range</tspan></text>
</g>
</svg>
</body>
</html>
